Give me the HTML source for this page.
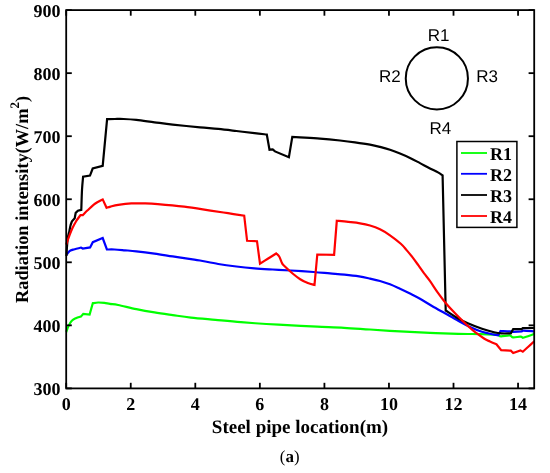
<!DOCTYPE html>
<html><head><meta charset="utf-8"><style>
html,body{margin:0;padding:0;background:#fff;}
body{width:550px;height:473px;overflow:hidden;}
svg{display:block;text-rendering:geometricPrecision;}
.serif{font-family:"Liberation Serif","Times New Roman",serif;font-weight:bold;}
.sans{font-family:"Liberation Sans",Arial,sans-serif;}
</style></head><body>
<svg width="550" height="473" viewBox="0 0 550 473">
<rect width="550" height="473" fill="#fff"/>
<g fill="none" stroke-width="2.2" stroke-linejoin="miter" stroke-miterlimit="4">
<path stroke="#00ff00" d="M66.30,332.00 C66.67,331.00 67.62,327.85 68.50,326.00 C69.38,324.15 70.37,322.20 71.60,320.90 C72.83,319.60 74.32,318.95 75.90,318.20 C77.48,317.45 80.23,316.70 81.10,316.40 L83.30,313.80 L89.60,314.50 L92.80,303.20 C93.68,303.08 96.17,302.55 98.10,302.50 C100.03,302.45 102.42,302.67 104.40,302.90 C106.38,303.13 107.70,303.55 110.00,303.90 C112.30,304.25 113.80,304.13 118.20,305.00 C122.60,305.87 130.35,307.87 136.40,309.10 C142.45,310.33 148.45,311.40 154.50,312.40 C160.55,313.40 166.63,314.23 172.70,315.10 C178.77,315.97 183.78,316.80 190.90,317.60 C198.02,318.40 207.07,319.13 215.40,319.90 C223.73,320.67 232.42,321.52 240.90,322.20 C249.38,322.88 257.82,323.47 266.30,324.00 C274.78,324.53 283.32,324.95 291.80,325.40 C300.28,325.85 308.50,326.30 317.20,326.70 C325.90,327.10 335.20,327.33 344.00,327.80 C352.80,328.27 360.67,328.90 370.00,329.50 C379.33,330.10 390.00,330.85 400.00,331.40 C410.00,331.95 420.30,332.40 430.00,332.80 C439.70,333.20 449.87,333.58 458.20,333.80 C466.53,334.02 474.03,333.97 480.00,334.10 C485.97,334.23 490.87,334.42 494.00,334.60 C497.13,334.78 498.00,335.10 498.80,335.20 C499.20,335.40 499.40,336.37 501.20,336.40 C503.00,336.43 507.60,335.23 509.60,335.40 C511.60,335.57 511.40,337.20 513.20,337.40 C515.00,337.60 518.80,336.53 520.40,336.60 C522.00,336.67 522.40,337.60 522.80,337.80 C523.67,337.53 526.08,336.83 528.00,336.20 C529.92,335.57 533.25,334.37 534.30,334.00"/>
<path stroke="#0000ff" d="M66.90,254.50 C67.17,254.12 67.90,252.85 68.50,252.20 C69.10,251.55 69.63,251.05 70.50,250.60 C71.37,250.15 72.53,249.85 73.70,249.50 C74.87,249.15 76.27,248.82 77.50,248.50 C78.73,248.18 80.50,247.75 81.10,247.60 L82.70,248.50 L90.10,247.40 L92.80,242.20 L102.70,238.00 L106.90,249.50 C108.17,249.50 111.48,249.37 114.50,249.50 C117.52,249.63 121.35,250.00 125.00,250.30 C128.65,250.60 131.48,250.75 136.40,251.30 C141.32,251.85 148.45,252.75 154.50,253.60 C160.55,254.45 166.63,255.48 172.70,256.40 C178.77,257.32 186.35,258.42 190.90,259.10 C195.45,259.78 195.45,259.68 200.00,260.50 C204.55,261.32 212.13,263.00 218.20,264.00 C224.27,265.00 230.35,265.78 236.40,266.50 C242.45,267.22 248.45,267.80 254.50,268.30 C260.55,268.80 266.63,269.13 272.70,269.50 C278.77,269.87 284.10,270.08 290.90,270.50 C297.70,270.92 306.98,271.52 313.50,272.00 C320.02,272.48 324.83,272.97 330.00,273.40 C335.17,273.83 339.65,274.10 344.50,274.60 C349.35,275.10 354.85,275.73 359.10,276.40 C363.35,277.07 366.52,277.83 370.00,278.60 C373.48,279.37 376.67,280.05 380.00,281.00 C383.33,281.95 386.67,283.00 390.00,284.30 C393.33,285.60 396.67,287.25 400.00,288.80 C403.33,290.35 406.67,291.93 410.00,293.60 C413.33,295.27 416.33,296.73 420.00,298.80 C423.67,300.87 427.83,303.58 432.00,306.00 C436.17,308.42 440.63,310.85 445.00,313.30 C449.37,315.75 454.03,318.42 458.20,320.70 C462.37,322.98 466.03,325.15 470.00,327.00 C473.97,328.85 478.00,330.53 482.00,331.80 C486.00,333.07 491.30,334.03 494.00,334.60 C496.70,335.17 497.50,335.10 498.20,335.20 L500.60,331.00 C502.30,331.07 508.70,331.27 510.80,331.40 C512.90,331.53 511.40,331.80 513.20,331.80 C515.00,331.80 519.90,331.60 521.60,331.40 C523.30,331.20 521.28,330.60 523.40,330.60 C525.52,330.60 532.48,331.27 534.30,331.40"/>
<path stroke="#000000" d="M66.50,256.00 C66.57,254.67 66.68,251.00 66.90,248.00 C67.12,245.00 67.38,240.85 67.80,238.00 C68.22,235.15 68.95,232.98 69.40,230.90 C69.85,228.82 70.07,227.12 70.50,225.50 C70.93,223.88 71.75,221.92 72.00,221.20 L74.70,218.20 L75.70,212.90 L77.90,210.80 L81.30,209.80 C81.42,206.50 81.70,195.52 82.00,190.00 C82.30,184.48 82.92,178.92 83.10,176.70 L90.00,175.60 L92.70,168.50 L102.70,165.80 L107.10,119.20 C108.42,119.17 112.25,119.03 115.00,119.00 C117.75,118.97 120.03,118.85 123.60,119.00 C127.17,119.15 131.25,119.35 136.40,119.90 C141.55,120.45 148.45,121.52 154.50,122.30 C160.55,123.08 165.12,123.77 172.70,124.60 C180.28,125.43 192.42,126.58 200.00,127.30 C207.58,128.02 212.13,128.28 218.20,128.90 C224.27,129.52 230.35,130.28 236.40,131.00 C242.45,131.72 249.43,132.62 254.50,133.20 C259.57,133.78 264.75,134.28 266.80,134.50 L269.50,149.70 L272.70,149.40 L275.00,151.40 L288.90,157.30 L292.30,136.80 C293.58,136.88 295.38,137.00 300.00,137.30 C304.62,137.60 313.33,138.07 320.00,138.60 C326.67,139.13 334.17,139.88 340.00,140.50 C345.83,141.12 350.00,141.62 355.00,142.30 C360.00,142.98 365.83,143.83 370.00,144.60 C374.17,145.37 376.67,146.03 380.00,146.90 C383.33,147.77 386.67,148.70 390.00,149.80 C393.33,150.90 396.67,152.15 400.00,153.50 C403.33,154.85 406.67,156.30 410.00,157.90 C413.33,159.50 416.67,161.35 420.00,163.10 C423.33,164.85 427.00,166.85 430.00,168.40 C433.00,169.95 435.90,171.23 438.00,172.40 C440.10,173.57 441.83,174.90 442.60,175.40 L445.70,310.50 C447.78,311.83 454.42,316.32 458.20,318.50 C461.98,320.68 464.43,321.88 468.40,323.60 C472.37,325.32 477.73,327.37 482.00,328.80 C486.27,330.23 490.80,331.43 494.00,332.20 C497.20,332.97 498.40,333.20 501.20,333.40 C504.00,333.60 509.20,333.40 510.80,333.40 L513.20,329.20 L521.60,329.20 L522.80,328.20 L534.30,328.00"/>
<path stroke="#ff0000" d="M66.20,244.60 C66.47,243.83 67.27,241.48 67.80,240.00 C68.33,238.52 68.60,237.75 69.40,235.70 C70.20,233.65 71.45,230.17 72.60,227.70 C73.75,225.23 75.40,222.43 76.30,220.90 C77.20,219.37 77.30,219.47 78.00,218.50 C78.70,217.53 80.08,215.67 80.50,215.10 L82.80,215.10 C83.60,214.30 85.82,212.02 87.60,210.30 C89.38,208.58 91.65,206.27 93.50,204.80 C95.35,203.33 97.17,202.40 98.70,201.50 C100.23,200.60 102.03,199.75 102.70,199.40 L106.60,207.80 C107.25,207.60 108.57,207.08 110.50,206.60 C112.43,206.12 114.72,205.43 118.20,204.90 C121.68,204.37 127.10,203.65 131.40,203.40 C135.70,203.15 139.60,203.28 144.00,203.40 C148.40,203.52 151.10,203.55 157.80,204.10 C164.50,204.65 175.42,205.62 184.20,206.70 C192.98,207.78 203.20,209.52 210.50,210.60 C217.80,211.68 222.38,212.35 228.00,213.20 C233.62,214.05 241.50,215.28 244.20,215.70 L247.10,240.80 L257.00,241.20 L260.00,263.70 C261.23,262.92 264.70,260.70 267.40,259.00 C270.10,257.30 274.73,254.42 276.20,253.50 C276.70,254.00 278.20,254.85 279.20,256.50 C280.20,258.15 281.33,261.82 282.20,263.40 C283.07,264.98 282.67,264.32 284.40,266.00 C286.13,267.68 289.97,271.30 292.60,273.50 C295.23,275.70 297.67,277.62 300.20,279.20 C302.73,280.78 305.42,282.05 307.80,283.00 C310.18,283.95 313.38,284.58 314.50,284.90 L317.30,254.50 L334.10,254.90 L336.80,220.80 C338.70,220.98 344.33,221.48 348.20,221.90 C352.07,222.32 356.37,222.70 360.00,223.30 C363.63,223.90 366.67,224.50 370.00,225.50 C373.33,226.50 376.67,227.67 380.00,229.30 C383.33,230.93 386.53,232.88 390.00,235.30 C393.47,237.72 398.03,241.33 400.80,243.80 C403.57,246.27 404.67,247.88 406.60,250.10 C408.53,252.32 410.45,254.58 412.40,257.10 C414.35,259.62 416.35,262.48 418.30,265.20 C420.25,267.92 422.17,270.78 424.10,273.40 C426.03,276.02 427.62,277.70 429.90,280.90 C432.18,284.10 435.03,288.75 437.80,292.60 C440.57,296.45 443.58,300.52 446.50,304.00 C449.42,307.48 452.38,310.47 455.30,313.50 C458.22,316.53 461.10,319.42 464.00,322.20 C466.90,324.98 470.50,328.30 472.70,330.20 C474.90,332.10 475.25,332.17 477.20,333.60 C479.15,335.03 482.27,337.48 484.40,338.80 C486.53,340.12 488.00,340.60 490.00,341.50 C492.00,342.40 495.33,343.75 496.40,344.20 L501.20,350.20 L510.80,350.70 L513.20,353.00 L520.40,350.40 L522.80,351.70 C523.67,350.92 526.08,348.75 528.00,347.00 C529.92,345.25 533.25,342.17 534.30,341.20"/>
</g>
<g stroke="#000" stroke-width="1.8" fill="none">
<rect x="66.2" y="10.1" width="468.00" height="378.30" stroke-width="1.8"/>
<line x1="66.20" y1="388.4" x2="66.20" y2="382.79999999999995"/><line x1="66.20" y1="10.1" x2="66.20" y2="15.7"/><line x1="130.75" y1="388.4" x2="130.75" y2="382.79999999999995"/><line x1="130.75" y1="10.1" x2="130.75" y2="15.7"/><line x1="195.30" y1="388.4" x2="195.30" y2="382.79999999999995"/><line x1="195.30" y1="10.1" x2="195.30" y2="15.7"/><line x1="259.86" y1="388.4" x2="259.86" y2="382.79999999999995"/><line x1="259.86" y1="10.1" x2="259.86" y2="15.7"/><line x1="324.41" y1="388.4" x2="324.41" y2="382.79999999999995"/><line x1="324.41" y1="10.1" x2="324.41" y2="15.7"/><line x1="388.96" y1="388.4" x2="388.96" y2="382.79999999999995"/><line x1="388.96" y1="10.1" x2="388.96" y2="15.7"/><line x1="453.51" y1="388.4" x2="453.51" y2="382.79999999999995"/><line x1="453.51" y1="10.1" x2="453.51" y2="15.7"/><line x1="518.06" y1="388.4" x2="518.06" y2="382.79999999999995"/><line x1="518.06" y1="10.1" x2="518.06" y2="15.7"/><line x1="66.2" y1="388.40" x2="71.8" y2="388.40"/><line x1="534.2" y1="388.40" x2="528.6" y2="388.40"/><line x1="66.2" y1="325.35" x2="71.8" y2="325.35"/><line x1="534.2" y1="325.35" x2="528.6" y2="325.35"/><line x1="66.2" y1="262.30" x2="71.8" y2="262.30"/><line x1="534.2" y1="262.30" x2="528.6" y2="262.30"/><line x1="66.2" y1="199.25" x2="71.8" y2="199.25"/><line x1="534.2" y1="199.25" x2="528.6" y2="199.25"/><line x1="66.2" y1="136.20" x2="71.8" y2="136.20"/><line x1="534.2" y1="136.20" x2="528.6" y2="136.20"/><line x1="66.2" y1="73.15" x2="71.8" y2="73.15"/><line x1="534.2" y1="73.15" x2="528.6" y2="73.15"/><line x1="66.2" y1="10.10" x2="71.8" y2="10.10"/><line x1="534.2" y1="10.10" x2="528.6" y2="10.10"/>
</g>
<g class="serif" font-size="18" fill="#000">
<text x="66.20" y="410" text-anchor="middle">0</text><text x="130.75" y="410" text-anchor="middle">2</text><text x="195.30" y="410" text-anchor="middle">4</text><text x="259.86" y="410" text-anchor="middle">6</text><text x="324.41" y="410" text-anchor="middle">8</text><text x="388.96" y="410" text-anchor="middle">10</text><text x="453.51" y="410" text-anchor="middle">12</text><text x="518.06" y="410" text-anchor="middle">14</text>
<text x="60.5" y="395.00" text-anchor="end">300</text><text x="60.5" y="331.95" text-anchor="end">400</text><text x="60.5" y="268.90" text-anchor="end">500</text><text x="60.5" y="205.85" text-anchor="end">600</text><text x="60.5" y="142.80" text-anchor="end">700</text><text x="60.5" y="79.75" text-anchor="end">800</text><text x="60.5" y="16.70" text-anchor="end">900</text>
</g>
<text class="serif" font-size="19" x="300" y="432.5" text-anchor="middle">Steel pipe location(m)</text>
<text class="serif" font-size="18.4" transform="translate(27.6,303.1) rotate(-90)">Radiation intensity(W/m<tspan font-size="13" dy="-9.1">2</tspan><tspan dy="9.1">)</tspan></text>
<text font-family="Liberation Serif,serif" font-size="16.8" x="289.7" y="461.6" text-anchor="middle">(<tspan font-weight="bold" font-size="17">a</tspan>)</text>
<g class="sans" font-size="17" fill="#000">
<text x="438.5" y="40.9" text-anchor="middle">R1</text>
<text x="389.8" y="82.4" text-anchor="middle">R2</text>
<text x="487.2" y="82.4" text-anchor="middle">R3</text>
<text x="440.4" y="134" text-anchor="middle">R4</text>
</g>
<ellipse cx="436.85" cy="78.4" rx="31.1" ry="31.1" fill="none" stroke="#000" stroke-width="2"/>
<rect x="456.9" y="141.5" width="60" height="85.9" fill="#fff" stroke="#000" stroke-width="1.5"/>
<g stroke-width="1.8">
<line x1="461" y1="153" x2="487" y2="153" stroke="#00ff00"/>
<line x1="461" y1="173.8" x2="487" y2="173.8" stroke="#0000ff"/>
<line x1="461" y1="195" x2="487" y2="195" stroke="#000"/>
<line x1="461" y1="216" x2="487" y2="216" stroke="#ff0000"/>
</g>
<g class="serif" font-size="18" fill="#000">
<text x="490" y="159.8">R1</text>
<text x="490" y="180.6">R2</text>
<text x="490" y="201.8">R3</text>
<text x="490" y="222.8">R4</text>
</g>
</svg>
</body></html>
